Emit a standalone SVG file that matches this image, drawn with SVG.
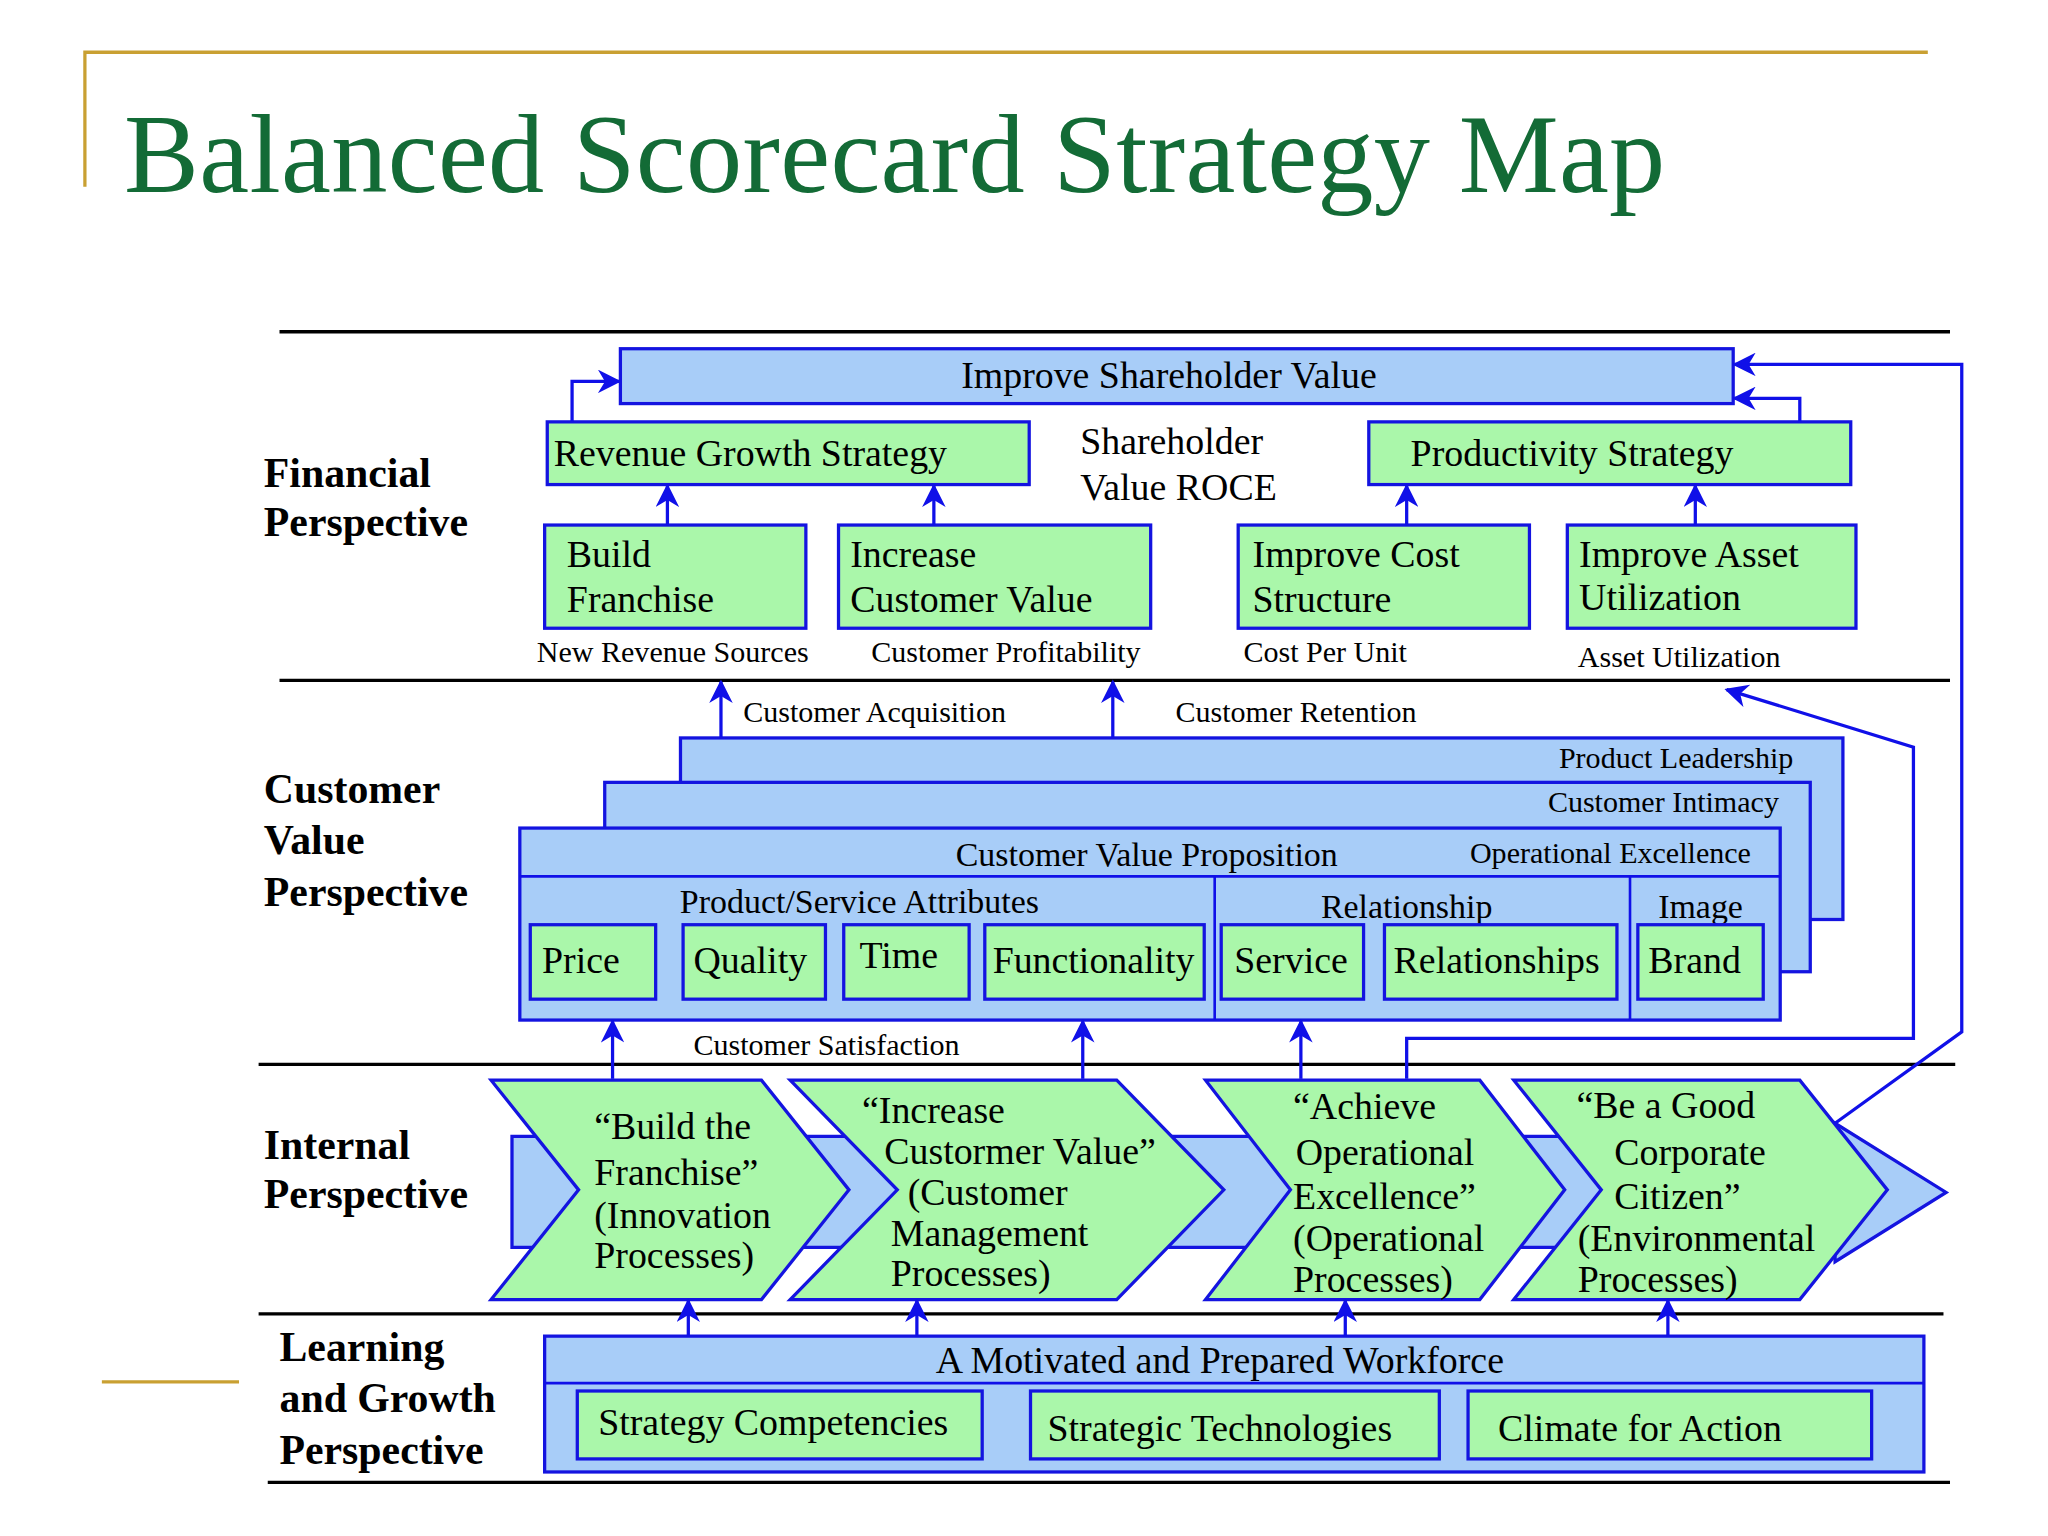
<svg xmlns="http://www.w3.org/2000/svg" width="2048" height="1536" viewBox="0 0 2048 1536">
<defs>
<marker id="ah" viewBox="0 0 10 10" refX="9" refY="5" markerWidth="18" markerHeight="18" orient="auto" markerUnits="userSpaceOnUse"><path d="M0,0 L10,5 L0,10 L3,5 z" fill="#1010e8"/></marker>
<style>
text{font-family:"Liberation Serif","Times New Roman",serif;fill:#000;dominant-baseline:central}
.b{fill:#a8cdf8;stroke:#1414e0;stroke-width:2.5}
.g{fill:#aaf7aa;stroke:#1414e0;stroke-width:2.5}
.t{font-size:29px}
.s{font-size:23px}
.p{font-size:32px;font-weight:bold}
.c{stroke:#1010e8;stroke-width:2;fill:none}
.ar{stroke:#1010e8;stroke-width:2.5;fill:none;marker-end:url(#ah)}
.k{stroke:#000;stroke-width:2.5}
</style>
</defs>
<rect width="2048" height="1536" fill="#fff"/>
<g transform="scale(1.3061)">
<path d="M65,143 V40 H1476" fill="none" stroke="#c9a032" stroke-width="2.5"/>
<line x1="78" y1="1058" x2="183" y2="1058" stroke="#c9a032" stroke-width="2.5"/>
<text x="95" y="118" style="font-size:86px;fill:#136b36" textLength="1180">Balanced Scorecard Strategy Map</text>
<g id="rules">
<line class="k" x1="214" y1="254" x2="1493" y2="254"/>
<line class="k" x1="214" y1="521" x2="1493" y2="521"/>
<line class="k" x1="198" y1="815" x2="1497" y2="815"/>
<line class="k" x1="198" y1="1006" x2="1488" y2="1006"/>
<line class="k" x1="205" y1="1135" x2="1493" y2="1135"/>
</g>
<g id="labels">
<text class="p" x="202" y="362">Financial</text><text class="p" x="202" y="400">Perspective</text>
<text class="p" x="202" y="604">Customer</text><text class="p" x="202" y="643">Value</text><text class="p" x="202" y="683">Perspective</text>
<text class="p" x="202" y="877">Internal</text><text class="p" x="202" y="914">Perspective</text>
<text class="p" x="214" y="1031">Learning</text><text class="p" x="214" y="1070">and Growth</text><text class="p" x="214" y="1110">Perspective</text>
</g>
<g id="shareholder"><rect class="b" x="475" y="267" width="852" height="42"/><text class="t" x="895" y="287" text-anchor="middle">Improve Shareholder Value</text></g>
<g id="revenue"><rect class="g" x="419" y="323" width="369" height="48"/><text class="t" x="424" y="347">Revenue Growth Strategy</text></g>
<g id="roce"><text class="t" x="827" y="338">Shareholder</text><text class="t" x="827" y="373">Value ROCE</text></g>
<g id="productivity"><rect class="g" x="1048" y="323" width="369" height="48"/><text class="t" x="1080" y="347">Productivity Strategy</text></g>
<g id="build"><rect class="g" x="417" y="402" width="200" height="79"/><text class="t" x="434" y="424">Build</text><text class="t" x="434" y="459">Franchise</text></g>
<g id="increase"><rect class="g" x="642" y="402" width="239" height="79"/><text class="t" x="651" y="424">Increase</text><text class="t" x="651" y="459">Customer Value</text></g>
<g id="cost"><rect class="g" x="948" y="402" width="223" height="79"/><text class="t" x="959" y="424">Improve Cost</text><text class="t" x="959" y="459">Structure</text></g>
<g id="asset"><rect class="g" x="1200" y="402" width="221" height="79"/><text class="t" x="1209" y="424">Improve Asset</text><text class="t" x="1209" y="457">Utilization</text></g>
<g id="measures">
<text class="s" x="411" y="499">New Revenue Sources</text><text class="s" x="667" y="499">Customer Profitability</text>
<text class="s" x="952" y="499">Cost Per Unit</text><text class="s" x="1208" y="503">Asset Utilization</text>
<text class="s" x="569" y="545">Customer Acquisition</text><text class="s" x="900" y="545">Customer Retention</text>
<text class="s" x="531" y="800">Customer Satisfaction</text>
</g>
<g id="cvp">
<rect class="b" x="521" y="565" width="890" height="139"/>
<text class="s" x="1373" y="580" text-anchor="end">Product Leadership</text>
<rect class="b" x="463" y="599" width="923" height="145"/>
<text class="s" x="1362" y="614" text-anchor="end">Customer Intimacy</text>
<rect class="b" x="398" y="634" width="965" height="147"/>
<line class="c" x1="398" y1="671" x2="1363" y2="671" stroke-width="2.5"/>
<line class="c" x1="930" y1="671" x2="930" y2="781"/><line class="c" x1="1248" y1="671" x2="1248" y2="781"/>
<text class="t" x="878" y="654" text-anchor="middle" style="font-size:26px">Customer Value Proposition</text>
<text class="s" x="1233" y="653" text-anchor="middle">Operational Excellence</text>
<text class="t" x="658" y="690" text-anchor="middle" style="font-size:26px">Product/Service Attributes</text>
<text class="t" x="1077" y="694" text-anchor="middle" style="font-size:26px">Relationship</text>
<text class="t" x="1302" y="694" text-anchor="middle" style="font-size:26px">Image</text>
</g>
<g id="price"><rect class="g" x="406" y="708" width="96" height="57"/><text class="t" x="415" y="735">Price</text></g>
<g id="quality"><rect class="g" x="523" y="708" width="109" height="57"/><text class="t" x="531" y="735">Quality</text></g>
<g id="time"><rect class="g" x="646" y="708" width="96" height="57"/><text class="t" x="658" y="731">Time</text></g>
<g id="functionality"><rect class="g" x="754" y="708" width="168" height="57"/><text class="t" x="760" y="735">Functionality</text></g>
<g id="service"><rect class="g" x="935" y="708" width="109" height="57"/><text class="t" x="945" y="735">Service</text></g>
<g id="relationships"><rect class="g" x="1060" y="708" width="178" height="57"/><text class="t" x="1067" y="735">Relationships</text></g>
<g id="brand"><rect class="g" x="1254" y="708" width="96" height="57"/><text class="t" x="1262" y="735">Brand</text></g>
<g id="band"><polygon class="b" points="392,870 1405,870 1405,860 1490,913 1405,966 1405,955 392,955"/></g>
<g id="ch1"><polygon class="g" points="376,827 583,827 650,911 583,995 376,995 443,911"/>
<text class="t" x="455" y="862">“Build the</text><text class="t" x="455" y="897">Franchise”</text><text class="t" x="455" y="930">(Innovation</text><text class="t" x="455" y="961">Processes)</text></g>
<g id="ch2"><polygon class="g" points="605,827 855,827 937,911 855,995 605,995 687,911"/>
<text class="t" x="660" y="850">“Increase</text><text class="t" x="677" y="881">Custormer Value”</text><text class="t" x="695" y="913">(Customer</text><text class="t" x="682" y="944">Management</text><text class="t" x="682" y="975">Processes)</text></g>
<g id="ch3"><polygon class="g" points="923,827 1133,827 1198,911 1133,995 923,995 988,911"/>
<text class="t" x="990" y="847">“Achieve</text><text class="t" x="992" y="882">Operational</text><text class="t" x="990" y="916">Excellence”</text><text class="t" x="990" y="948">(Operational</text><text class="t" x="990" y="979">Processes)</text></g>
<g id="ch4"><polygon class="g" points="1159,827 1378,827 1445,911 1378,995 1159,995 1226,911"/>
<text class="t" x="1207" y="846">“Be a Good</text><text class="t" x="1236" y="882">Corporate</text><text class="t" x="1236" y="916">Citizen”</text><text class="t" x="1208" y="948">(Environmental</text><text class="t" x="1208" y="979">Processes)</text></g>
<g id="workforce"><rect class="b" x="417" y="1023" width="1056" height="104"/><line class="c" x1="417" y1="1059" x2="1473" y2="1059" stroke-width="2.5"/>
<text class="t" x="934" y="1041" text-anchor="middle">A Motivated and Prepared Workforce</text></g>
<g id="competencies"><rect class="g" x="442" y="1065" width="310" height="52"/><text class="t" x="458" y="1089">Strategy Competencies</text></g>
<g id="technologies"><rect class="g" x="789" y="1065" width="313" height="52"/><text class="t" x="802" y="1093">Strategic Technologies</text></g>
<g id="climate"><rect class="g" x="1124" y="1065" width="309" height="52"/><text class="t" x="1147" y="1093">Climate for Action</text></g>
<g id="connectors">
<path class="ar" d="M438,323 V292 H474"/>
<path class="ar" d="M1378,323 V305 H1328"/>
<path class="ar" d="M1405,860 L1502,790 V279 H1328"/>
<path class="ar" d="M1077,826 V795 H1465 V572 L1322,528"/>
<path class="ar" d="M511,402 V372"/><path class="ar" d="M715,402 V372"/><path class="ar" d="M1077,402 V372"/><path class="ar" d="M1298,402 V372"/>
<path class="ar" d="M552,565 V522"/><path class="ar" d="M852,565 V522"/>
<path class="ar" d="M469,826 V782"/><path class="ar" d="M829,826 V782"/><path class="ar" d="M996,826 V782"/>
<path class="ar" d="M527,1023 V996"/><path class="ar" d="M702,1023 V996"/><path class="ar" d="M1030,1023 V996"/><path class="ar" d="M1277,1023 V996"/>
</g>
</g>
</svg>
